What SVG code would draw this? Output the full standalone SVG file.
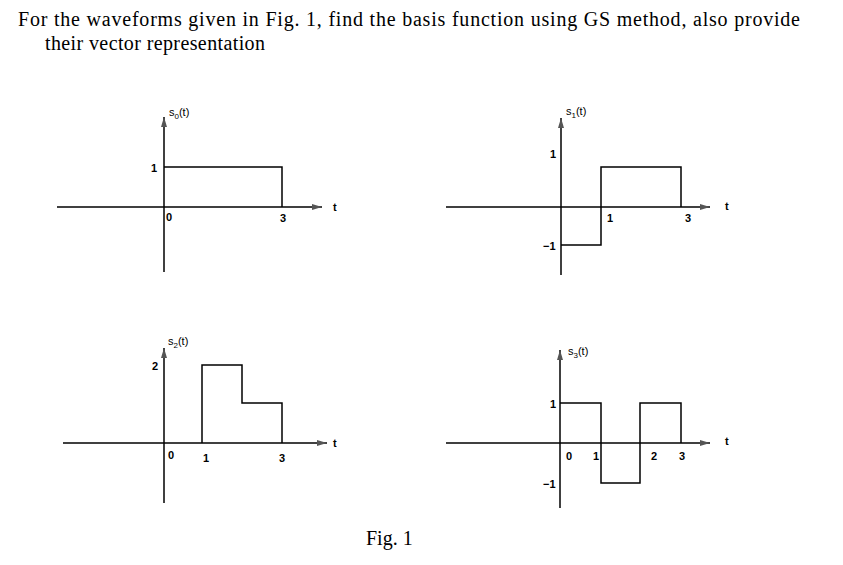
<svg xmlns="http://www.w3.org/2000/svg" width="843" height="565" viewBox="0 0 843 565">
<defs><marker id="ar" viewBox="0 0 10 6" refX="10" refY="3" markerWidth="8" markerHeight="4" orient="auto-start-reverse"><path d="M0,0L10,3L0,6z" fill="#555"/></marker></defs>
<style>
.ax{stroke:#000;stroke-width:1.5;fill:none}
.w{stroke:#000;stroke-width:1.5;fill:none}
.t{font-family:"Liberation Serif",serif;font-size:20px;fill:#000}
.l{font-family:"Liberation Sans",sans-serif;font-size:11px;fill:#000;font-weight:bold}
.s{font-family:"Liberation Sans",sans-serif;font-size:11px;fill:#000}
</style>
<rect width="843" height="565" fill="#fff"/>
<text class="t" x="18" y="26" textLength="782" lengthAdjust="spacing">For the waveforms given in Fig. 1, find the basis function using GS method, also provide</text>
<text class="t" x="45" y="50" textLength="220" lengthAdjust="spacing">their vector representation</text>
<g id="s0">
<path class="ax" d="M164,117V272" marker-start="url(#ar)"/>
<path class="ax" d="M57,207H322" marker-end="url(#ar)"/>
<path class="w" d="M164,167H282V207"/>
<text class="s" x="169" y="116">s<tspan font-size="8" dy="3">0</tspan><tspan dy="-3">(t)</tspan></text>
<text class="l" x="151" y="172">1</text><text class="l" x="166" y="221">0</text><text class="l" x="280" y="222">3</text><text class="l" x="333" y="211">t</text>
</g>
<g id="s1">
<path class="ax" d="M561,118V275" marker-start="url(#ar)"/>
<path class="ax" d="M446,207H710" marker-end="url(#ar)"/>
<path class="w" d="M561,245H601V167H681V207"/>
<text class="s" x="566" y="115">s<tspan font-size="8" dy="3">1</tspan><tspan dy="-3">(t)</tspan></text>
<text class="l" x="550" y="158">1</text><text class="l" x="543" y="250">−1</text><text class="l" x="607" y="222">1</text><text class="l" x="685" y="222">3</text><text class="l" x="725" y="210">t</text>
</g>
<g id="s2">
<path class="ax" d="M164,348V503" marker-start="url(#ar)"/>
<path class="ax" d="M63,443H327" marker-end="url(#ar)"/>
<path class="w" d="M202,443V365H242V403H282V443"/>
<text class="s" x="168" y="345">s<tspan font-size="8" dy="3">2</tspan><tspan dy="-3">(t)</tspan></text>
<text class="l" x="152" y="370">2</text><text class="l" x="168" y="459">0</text><text class="l" x="203" y="462">1</text><text class="l" x="279" y="462">3</text><text class="l" x="333" y="447">t</text>
</g>
<g id="s3">
<path class="ax" d="M560,350V508" marker-start="url(#ar)"/>
<path class="ax" d="M446,443H710" marker-end="url(#ar)"/>
<path class="w" d="M560,403H601V483H640V403H681V443"/>
<text class="s" x="568" y="355">s<tspan font-size="8" dy="3">3</tspan><tspan dy="-3">(t)</tspan></text>
<text class="l" x="550" y="408">1</text><text class="l" x="543" y="488">−1</text><text class="l" x="566" y="460">0</text><text class="l" x="593" y="460">1</text><text class="l" x="651" y="460">2</text><text class="l" x="679" y="460">3</text><text class="l" x="725" y="445">t</text>
</g>
<text class="t" x="366" y="545">Fig. 1</text>
</svg>
